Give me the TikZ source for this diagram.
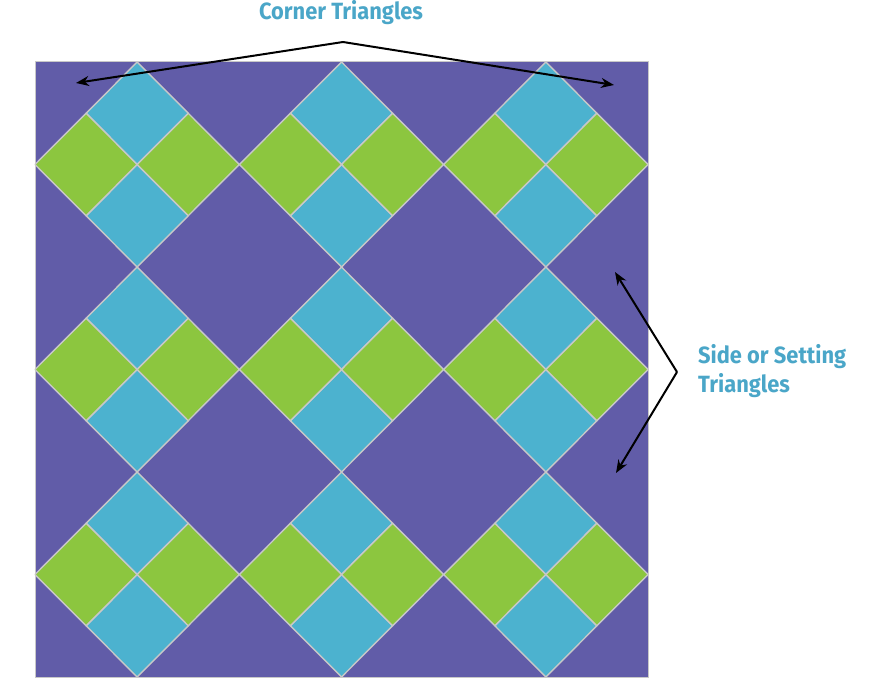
\documentclass[tikz,border=0pt]{standalone}
\usepackage{fontspec}
\setmainfont{Fira Sans}[FakeStretch=0.93]
\usetikzlibrary{arrows.meta}
\definecolor{qpurple}{HTML}{615CA8}
\definecolor{qblue}{HTML}{4CB2CF}
\definecolor{qgreen}{HTML}{8CC63F}
\definecolor{qline}{HTML}{C8C8C8}
\definecolor{qtext}{HTML}{4AA6C8}
\begin{document}
\begin{tikzpicture}[x=1pt,y=-1pt,
  patch/.style={draw=qline, line width=1.4pt, line join=round},
  lbl/.style={text=qtext, font=\bfseries\fontsize{23.5}{29}\selectfont, inner sep=0pt},
  pointer/.style={-{Stealth[length=13pt,width=10pt]}, line width=2pt, black}]
\useasboundingbox (0,0) rectangle (885,679);
\fill[qpurple] (35,62) rectangle (648,677);
\begin{scope}[shift={(35,62)}, x=102.17pt, y=-102.5pt]
 \foreach \c in {1,3,5}{
  \foreach \r in {1,3,5}{
   \filldraw[patch, fill=qblue] (\c,\r-1) -- (\c+0.5,\r-0.5) -- (\c,\r) -- (\c-0.5,\r-0.5) -- cycle;
   \filldraw[patch, fill=qblue] (\c,\r) -- (\c+0.5,\r+0.5) -- (\c,\r+1) -- (\c-0.5,\r+0.5) -- cycle;
   \filldraw[patch, fill=qgreen] (\c-1,\r) -- (\c-0.5,\r-0.5) -- (\c,\r) -- (\c-0.5,\r+0.5) -- cycle;
   \filldraw[patch, fill=qgreen] (\c,\r) -- (\c+0.5,\r-0.5) -- (\c+1,\r) -- (\c+0.5,\r+0.5) -- cycle;
  }
 }
\end{scope}
\draw[qline, line width=1pt] (35,62) rectangle (648,677);

\node[lbl, anchor=base] (corner) at (341,20) {Corner Triangles};
\node[lbl, anchor=base west, align=left] (side) at (698,392) {Side or Setting\\Triangles};

\coordinate (capex) at (343,42);
\coordinate (ctl) at (76,83);
\coordinate (ctr) at (614,85);
\coordinate (sapex) at (677,372);
\coordinate (stt) at (615,272);
\coordinate (stb) at (616,473);
\draw[pointer] (capex) -- (ctl);
\draw[pointer] (capex) -- (ctr);
\draw[pointer] (sapex) -- (stt);
\draw[pointer] (sapex) -- (stb);
\end{tikzpicture}
\end{document}
